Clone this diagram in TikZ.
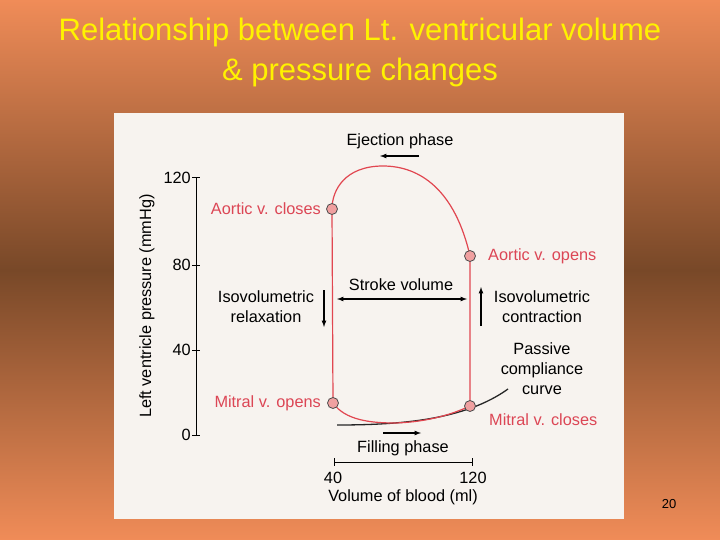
\documentclass[tikz,border=0pt]{standalone}
\usepackage{fontspec}
\setmainfont{Liberation Sans}
\usetikzlibrary{arrows,positioning}
\definecolor{slideorange}{RGB}{240,140,88}
\definecolor{slidebrown}{RGB}{120,72,40}
\definecolor{paper}{RGB}{247,243,239}
\definecolor{valvered}{RGB}{220,70,85}
\definecolor{loopred}{RGB}{225,70,80}
\definecolor{dotfill}{RGB}{240,160,160}
\tikzset{
  lbl/.style = {font=\fontsize{16.3}{20}\selectfont, align=center, inner sep=0pt},
  vlbl/.style = {lbl, text=valvered},
  valve/.style = {circle, draw=black!70, thick, fill=dotfill, minimum size=11pt, inner sep=0pt},
  arr/.style = {-latex, line width=1.2pt}
}
\begin{document}
\begin{tikzpicture}[x=1pt, y=-1pt]
		\useasboundingbox (0,0) rectangle (720,540);
		\shade[top color=slideorange, bottom color=slidebrown] (0,0) rectangle (720,270);
		\shade[top color=slidebrown, bottom color=slideorange] (0,270) rectangle (720,540);
		
		\node[text=yellow, font=\fontsize{31}{40}\selectfont, align=center] (title) at (360,52)
		{Relationship between Lt. ventricular volume\\\& pressure changes};
		\node[font=\fontsize{13}{15}\selectfont] (page) at (669,504) {20};
		
		\fill[paper] (114,113) rectangle (624,519);
		
		% pressure axis
		\draw[line width=1pt] (196,178) -- (196,435);
		\foreach \p/\y in {120/178,80/265,40/350,0/435}
		{
		\draw[line width=1pt] (192,\y) -- (200,\y);
		\node[lbl, anchor=east] (p\p) at (191,\y) {\p};
		}
		\node[lbl, rotate=90] (ylab) at (147,306) {Left ventricle pressure (mmHg)};
		
		% volume scale
		\draw[line width=1pt] (334,462) -- (472,462);
		\draw[line width=1pt] (334,458) -- (334,466);
		\draw[line width=1pt] (472,458) -- (472,466);
		\node[lbl] (v40) at (333,478) {40};
		\node[lbl] (v120) at (473,478) {120};
		\node[lbl] (xlab) at (403,497) {Volume of blood (ml)};
		
		% loop
		\draw[black!85, line width=1.3pt] (337,425) .. controls (400,425) and (465,420) .. (508,389);
		\draw[loopred, line width=1.2pt] (470,406) -- (470,256)
		.. controls (455,190) and (420,166) .. (383,166)
		.. controls (345,166) and (332,190) .. (332,209)
		-- (333,403)
		.. controls (345,420) and (370,423) .. (395,423)
		.. controls (430,422) and (455,413) .. (470,406);
		
		\node[valve] (aoclose) at (332,209) {};
		\node[valve] (aoopen) at (470,256) {};
		\node[valve] (miopen) at (333,403) {};
		\node[valve] (miclose) at (470,406) {};
		
		\node[vlbl, anchor=east] (aocloselbl) at (321,209) {Aortic v. closes};
		\node[vlbl, anchor=west] (aoopenlbl) at (488,256) {Aortic v. opens};
		\node[vlbl, anchor=east] (miopenlbl) at (321,403) {Mitral v. opens};
		\node[vlbl, anchor=west] (miclosellbl) at (489,420) {Mitral v. closes};
		
		\node[lbl] (eject) at (400,141) {Ejection phase};
		\coordinate (ejs) at (419,156);
		\coordinate (eje) at (380,156);
		\draw[arr] (ejs) -- (eje);
		
		\node[lbl] (stroke) at (401,285) {Stroke volume};
		\coordinate (svl) at (337,299);
		\coordinate (svr) at (467,299);
		\draw[latex-latex, line width=1.2pt] (svl) -- (svr);
		
		\node[lbl] (relax) at (266,307) {Isovolumetric\\relaxation};
		\coordinate (rls) at (324,290);
		\coordinate (rle) at (324,327);
		\draw[arr] (rls) -- (rle);
		
		\node[lbl] (contract) at (542,307) {Isovolumetric\\contraction};
		\coordinate (cts) at (481,326);
		\coordinate (cte) at (481,287);
		\draw[arr] (cts) -- (cte);
		
		\node[lbl] (passive) at (542,369) {Passive\\compliance\\curve};
		
		\node[lbl] (filling) at (403,448) {Filling phase};
		\coordinate (fls) at (383,433);
		\coordinate (fle) at (421,433);
		\draw[arr] (fls) -- (fle);
\end{tikzpicture}
\end{document}
